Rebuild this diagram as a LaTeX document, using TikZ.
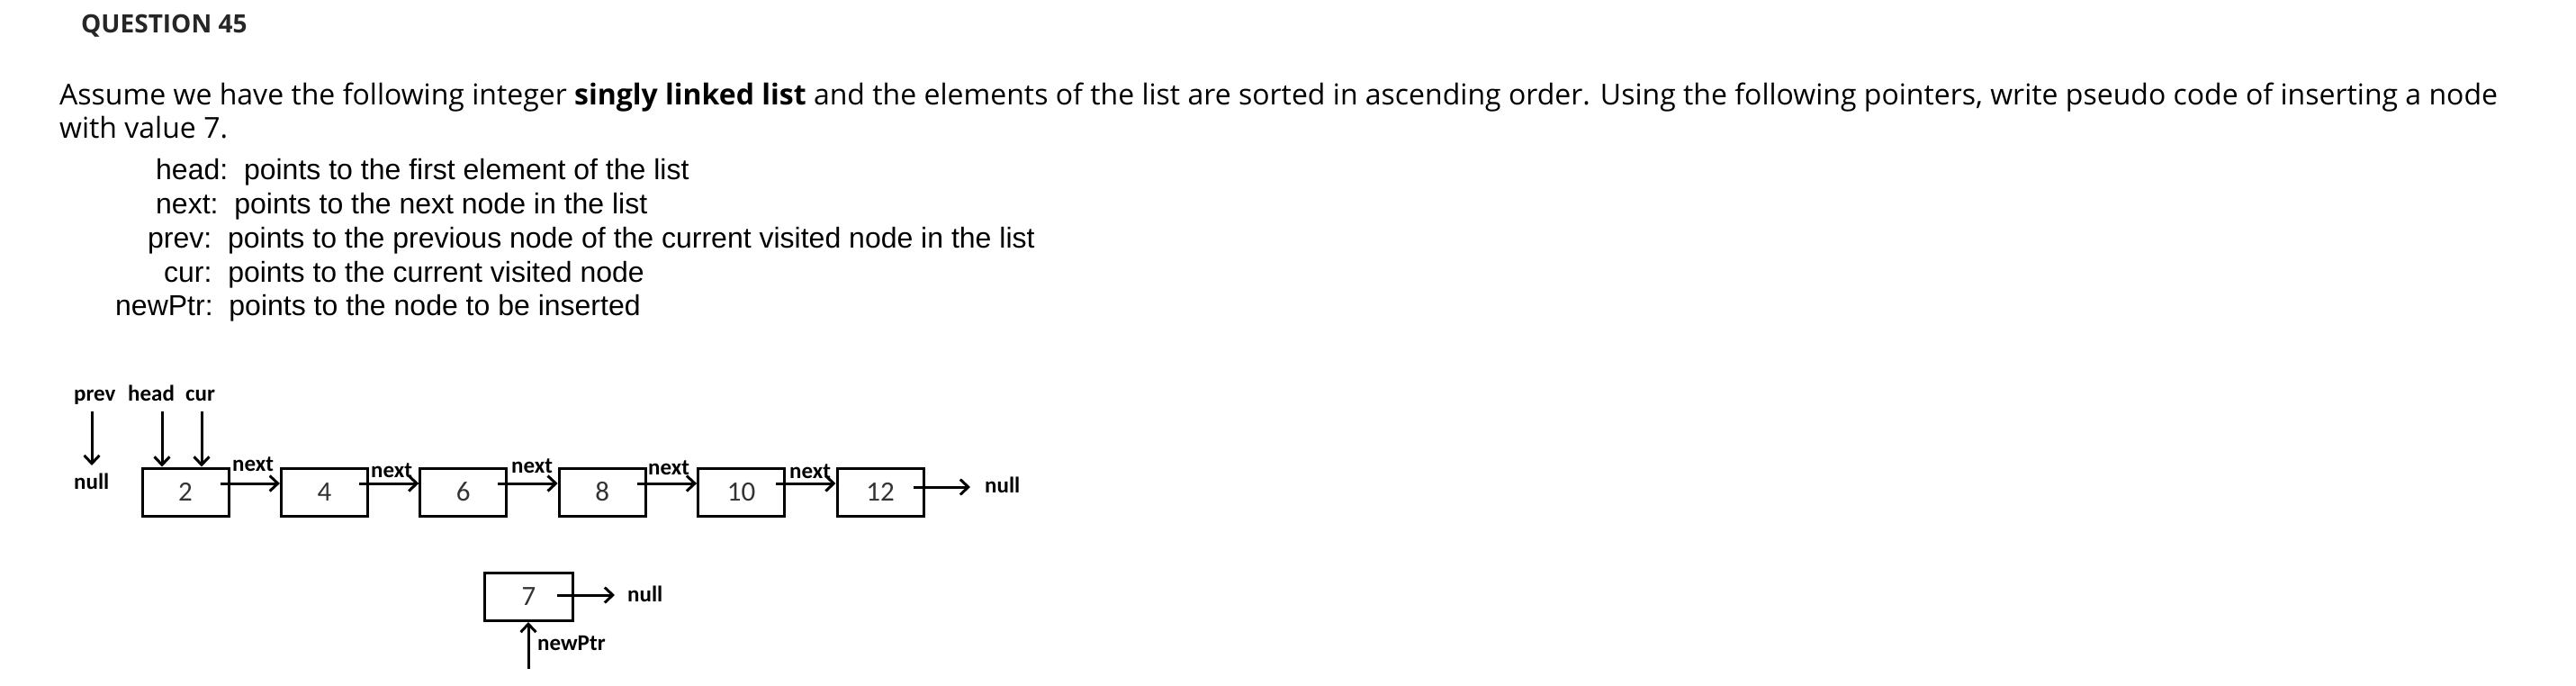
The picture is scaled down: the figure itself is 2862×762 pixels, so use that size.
\documentclass[tikz,border=0pt]{standalone}
\usepackage{fontspec}
\setmainfont{Liberation Sans}
\newfontfamily\opensans{Open Sans}
\newfontfamily\carlito{Carlito}
\usetikzlibrary{arrows.meta}
\begin{document}
\begin{tikzpicture}[x=1pt,y=-1pt,
  txt/.style={inner sep=0pt, anchor=base west},
  titletxt/.style={txt, font=\opensans\bfseries\fontsize{28}{28}\selectfont, text=black!85},
  paratxt/.style={txt, font=\opensans\fontsize{32}{32}\selectfont},
  deftxt/.style={txt, font=\fontsize{32}{32}\selectfont},
  cell/.style={draw, line width=3pt, minimum width=96pt, minimum height=53pt, inner sep=0pt,
    font=\carlito\fontsize{31}{31}\selectfont, text=black!80},
  lbl/.style={txt, font=\carlito\bfseries\fontsize{25}{25}\selectfont},
  ptr/.style={line width=3pt, -{Straight Barb[length=9pt,width=17pt,line width=3pt]}}]
\useasboundingbox[fill=white] (0,0) rectangle (2862,762);

% header text
\node[titletxt] (title) at (90,37) {QUESTION 45};
\node[paratxt] (p1) at (66,117) {Assume we have the following integer {\bfseries singly linked list} and the elements of the list are sorted in ascending order. Using the following pointers, write pseudo code of inserting a node};
\node[paratxt] (p2) at (66,154) {with value 7.};

\node[deftxt] (dhead) at (173,200) {head:\ \ points to the first element of the list};
\node[deftxt] (dnext) at (173,238) {next:\ \ points to the next node in the list};
\node[deftxt] (dprev) at (164,275) {prev:\ \ points to the previous node of the current visited node in the list};
\node[deftxt] (dcur) at (182,313) {cur:\ \ points to the current visited node};
\node[deftxt] (dnew) at (128,350) {newPtr:\ \ points to the node to be inserted};

% list boxes
\node[cell] (b2) at (206,546.5) {2};
\node[cell] (b4) at (360.4,546.5) {4};
\node[cell] (b6) at (514.8,546.5) {6};
\node[cell] (b8) at (669.2,546.5) {8};
\node[cell] (b10) at (823.6,546.5) {10};
\node[cell] (b12) at (978,546.5) {12};

% next connectors
\draw[ptr] ([xshift=-11pt,yshift=9.5pt]b2.east) -- ([yshift=9.5pt]b4.west);
\draw[ptr] ([xshift=-11pt,yshift=9.5pt]b4.east) -- ([yshift=9.5pt]b6.west);
\draw[ptr] ([xshift=-11pt,yshift=9.5pt]b6.east) -- ([yshift=9.5pt]b8.west);
\draw[ptr] ([xshift=-11pt,yshift=9.5pt]b8.east) -- ([yshift=9.5pt]b10.west);
\draw[ptr] ([xshift=-11pt,yshift=9.5pt]b10.east) -- ([yshift=9.5pt]b12.west);

\node[lbl] (n1) at (258,523) {next};
\node[lbl] (n2) at (412,530) {next};
\node[lbl] (n3) at (568,525) {next};
\node[lbl] (n4) at (720,527) {next};
\node[lbl] (n5) at (877,531) {next};

% end null
\node[lbl] (nullr) at (1094,547) {null};
\coordinate (endr) at (1078,541);
\draw[ptr] ([xshift=-13pt,yshift=5.5pt]b12.east) -- (endr);

% pointer labels
\node[lbl] (lprev) at (82,445) {prev};
\node[lbl] (lhead) at (142,445) {head};
\node[lbl] (lcur) at (206,445) {cur};
\node[lbl] (nulll) at (82,543) {null};
\coordinate (sprev) at (102,457);
\coordinate (eprev) at (102,517);
\coordinate (shead) at (180,457);
\coordinate (scur) at (224,457);
\draw[ptr] (sprev) -- (eprev);
\draw[ptr] (shead) -- (shead |- b2.north);
\draw[ptr] (scur) -- (scur |- b2.north);

% new node
\node[cell, minimum width=98pt] (b7) at (587.5,663) {7};
\node[lbl] (null7) at (697,668) {null};
\coordinate (end7) at (683,661);
\draw[ptr] ([xshift=-19pt,yshift=2pt]b7.east) -- (end7);
\node[lbl] (lnew) at (597,722) {newPtr};
\coordinate (snew) at (587,743);
\draw[ptr] (snew) -- (snew |- b7.south);
\end{tikzpicture}
\end{document}
